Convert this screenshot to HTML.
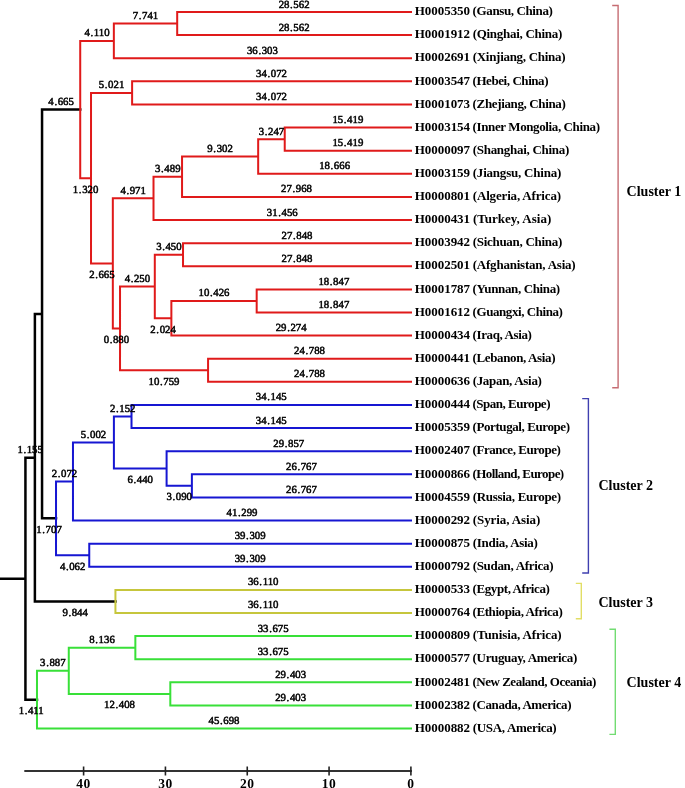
<!DOCTYPE html>
<html><head><meta charset="utf-8"><title>Dendrogram</title>
<style>
html,body{margin:0;padding:0;background:#fff;}
body{width:685px;height:788px;overflow:hidden;}
svg{display:block;filter:blur(0.3px);}
.n{font-family:"Liberation Serif",serif;font-size:10.8px;text-rendering:geometricPrecision;fill:#000;stroke:#000;stroke-width:0.5px;}
.l{font-family:"Liberation Serif",serif;font-size:13px;font-weight:bold;fill:#000;}
.i{letter-spacing:-0.05px;}
.p{letter-spacing:-0.44px;}
.c{font-family:"Liberation Serif",serif;font-size:14px;font-weight:bold;fill:#000;}
.a{font-family:"Liberation Serif",serif;font-size:13.5px;font-weight:bold;letter-spacing:0.5px;text-rendering:geometricPrecision;fill:#000;}
</style></head><body>
<svg width="685" height="788" viewBox="0 0 685 788">
<path d="M0,578.68H25.43M25.43,457.69V699.67M25.43,457.69H34.88M34.88,313.94V601.43M34.88,313.94H42.05M42.05,109.52V518.36M42.05,109.52H80.22M42.05,518.36H56.02M34.88,601.43H115.43M25.43,699.67H36.98" fill="none" stroke="#000000" stroke-width="2.5" stroke-linecap="square"/>
<path d="M80.22,40.89V178.14M80.22,40.89H113.85M113.85,23.56V58.23M113.85,23.56H177.19M177.19,12.00V35.11M177.19,12.00H411.00M177.19,35.11H411.00M113.85,58.23H411.00M80.22,178.14H91.02M91.02,92.90V263.38M91.02,92.90H132.11M132.11,81.34V104.46M132.11,81.34H411.00M132.11,104.46H411.00M91.02,263.38H112.83M112.83,198.36V328.39M112.83,198.36H153.51M153.51,176.69V220.03M153.51,176.69H182.05M182.05,156.47V196.92M182.05,156.47H258.17M258.17,139.13V173.80M258.17,139.13H284.73M284.73,127.57V150.69M284.73,127.57H411.00M284.73,150.69H411.00M258.17,173.80H411.00M182.05,196.92H411.00M153.51,220.03H411.00M112.83,328.39H120.03M120.03,286.49V370.28M120.03,286.49H154.80M154.80,254.71V318.27M154.80,254.71H183.03M183.03,243.15V266.26M183.03,243.15H411.00M183.03,266.26H411.00M154.80,318.27H171.37M171.37,300.94V335.61M171.37,300.94H256.68M256.68,289.38V312.50M256.68,289.38H411.00M256.68,312.50H411.00M171.37,335.61H411.00M120.03,370.28H208.07M208.07,358.72V381.84M208.07,358.72H411.00M208.07,381.84H411.00" fill="none" stroke="#e01a1a" stroke-width="2" stroke-linecap="square"/>
<path d="M56.02,481.52V555.20M56.02,481.52H72.97M72.97,442.52V520.53M72.97,442.52H113.90M113.90,416.51V468.52M113.90,416.51H131.51M131.51,404.95V428.07M131.51,404.95H411.00M131.51,428.07H411.00M113.90,468.52H166.60M166.60,451.18V485.86M166.60,451.18H411.00M166.60,485.86H191.88M191.88,474.30V497.41M191.88,474.30H411.00M191.88,497.41H411.00M72.97,520.53H411.00M56.02,555.20H89.25M89.25,543.64V566.76M89.25,543.64H411.00M89.25,566.76H411.00" fill="none" stroke="#1616d2" stroke-width="2" stroke-linecap="square"/>
<path d="M115.43,589.88V612.99M115.43,589.88H411.00M115.43,612.99H411.00" fill="none" stroke="#c6c63c" stroke-width="2" stroke-linecap="square"/>
<path d="M36.98,670.78V728.56M36.98,670.78H68.78M68.78,647.66V693.89M68.78,647.66H135.35M135.35,636.10V659.22M135.35,636.10H411.00M135.35,659.22H411.00M68.78,693.89H170.31M170.31,682.33V705.45M170.31,682.33H411.00M170.31,705.45H411.00M36.98,728.56H411.00" fill="none" stroke="#38e038" stroke-width="2" stroke-linecap="square"/>
<path d="M612.2,5.5H618.1V387.8H612.2" fill="none" stroke="#c66c72" stroke-width="1.4"/>
<path d="M582.2,398.6H588.4V573.0H582.2" fill="none" stroke="#4040b0" stroke-width="1.4"/>
<path d="M575.8,583.4H581.3V618.7H575.8" fill="none" stroke="#e2de66" stroke-width="1.4"/>
<path d="M609.4,629.2H615.3V734.4H609.4" fill="none" stroke="#72dc72" stroke-width="1.4"/>
<text class="c" x="626.6" y="195.7">Cluster 1</text>
<text class="c" x="598.4" y="489.9">Cluster 2</text>
<text class="c" x="598.4" y="606.6">Cluster 3</text>
<text class="c" x="626.6" y="686.7">Cluster 4</text>
<text class="n" x="30.16" y="453.19" text-anchor="middle">1<tspan dx="0.6">.</tspan><tspan dx="0.6">155</tspan></text>
<text class="n" x="61.13" y="105.02" text-anchor="middle">4<tspan dx="0.6">.</tspan><tspan dx="0.6">665</tspan></text>
<text class="n" x="97.04" y="36.39" text-anchor="middle">4<tspan dx="0.6">.</tspan><tspan dx="0.6">110</tspan></text>
<text class="n" x="145.52" y="19.06" text-anchor="middle">7<tspan dx="0.6">.</tspan><tspan dx="0.6">741</tspan></text>
<text class="n" x="294.10" y="7.50" text-anchor="middle">28<tspan dx="0.6">.</tspan><tspan dx="0.6">562</tspan></text>
<text class="n" x="294.10" y="30.61" text-anchor="middle">28<tspan dx="0.6">.</tspan><tspan dx="0.6">562</tspan></text>
<text class="n" x="262.43" y="53.73" text-anchor="middle">36<tspan dx="0.6">.</tspan><tspan dx="0.6">303</tspan></text>
<text class="n" x="85.62" y="192.64" text-anchor="middle">1<tspan dx="0.6">.</tspan><tspan dx="0.6">320</tspan></text>
<text class="n" x="111.56" y="88.40" text-anchor="middle">5<tspan dx="0.6">.</tspan><tspan dx="0.6">021</tspan></text>
<text class="n" x="271.55" y="76.84" text-anchor="middle">34<tspan dx="0.6">.</tspan><tspan dx="0.6">072</tspan></text>
<text class="n" x="271.55" y="99.96" text-anchor="middle">34<tspan dx="0.6">.</tspan><tspan dx="0.6">072</tspan></text>
<text class="n" x="101.92" y="277.88" text-anchor="middle">2<tspan dx="0.6">.</tspan><tspan dx="0.6">665</tspan></text>
<text class="n" x="133.17" y="193.86" text-anchor="middle">4<tspan dx="0.6">.</tspan><tspan dx="0.6">971</tspan></text>
<text class="n" x="167.78" y="172.19" text-anchor="middle">3<tspan dx="0.6">.</tspan><tspan dx="0.6">489</tspan></text>
<text class="n" x="220.11" y="151.97" text-anchor="middle">9<tspan dx="0.6">.</tspan><tspan dx="0.6">302</tspan></text>
<text class="n" x="271.45" y="134.63" text-anchor="middle">3<tspan dx="0.6">.</tspan><tspan dx="0.6">247</tspan></text>
<text class="n" x="347.87" y="123.07" text-anchor="middle">15<tspan dx="0.6">.</tspan><tspan dx="0.6">419</tspan></text>
<text class="n" x="347.87" y="146.19" text-anchor="middle">15<tspan dx="0.6">.</tspan><tspan dx="0.6">419</tspan></text>
<text class="n" x="334.58" y="169.30" text-anchor="middle">18<tspan dx="0.6">.</tspan><tspan dx="0.6">666</tspan></text>
<text class="n" x="296.53" y="192.42" text-anchor="middle">27<tspan dx="0.6">.</tspan><tspan dx="0.6">968</tspan></text>
<text class="n" x="282.26" y="215.53" text-anchor="middle">31<tspan dx="0.6">.</tspan><tspan dx="0.6">456</tspan></text>
<text class="n" x="116.43" y="342.89" text-anchor="middle">0<tspan dx="0.6">.</tspan><tspan dx="0.6">880</tspan></text>
<text class="n" x="137.42" y="281.99" text-anchor="middle">4<tspan dx="0.6">.</tspan><tspan dx="0.6">250</tspan></text>
<text class="n" x="168.92" y="250.21" text-anchor="middle">3<tspan dx="0.6">.</tspan><tspan dx="0.6">450</tspan></text>
<text class="n" x="297.02" y="238.65" text-anchor="middle">27<tspan dx="0.6">.</tspan><tspan dx="0.6">848</tspan></text>
<text class="n" x="297.02" y="261.76" text-anchor="middle">27<tspan dx="0.6">.</tspan><tspan dx="0.6">848</tspan></text>
<text class="n" x="163.08" y="332.77" text-anchor="middle">2<tspan dx="0.6">.</tspan><tspan dx="0.6">024</tspan></text>
<text class="n" x="214.02" y="296.44" text-anchor="middle">10<tspan dx="0.6">.</tspan><tspan dx="0.6">426</tspan></text>
<text class="n" x="333.84" y="284.88" text-anchor="middle">18<tspan dx="0.6">.</tspan><tspan dx="0.6">847</tspan></text>
<text class="n" x="333.84" y="308.00" text-anchor="middle">18<tspan dx="0.6">.</tspan><tspan dx="0.6">847</tspan></text>
<text class="n" x="291.18" y="331.11" text-anchor="middle">29<tspan dx="0.6">.</tspan><tspan dx="0.6">274</tspan></text>
<text class="n" x="164.05" y="384.78" text-anchor="middle">10<tspan dx="0.6">.</tspan><tspan dx="0.6">759</tspan></text>
<text class="n" x="309.54" y="354.22" text-anchor="middle">24<tspan dx="0.6">.</tspan><tspan dx="0.6">788</tspan></text>
<text class="n" x="309.54" y="377.34" text-anchor="middle">24<tspan dx="0.6">.</tspan><tspan dx="0.6">788</tspan></text>
<text class="n" x="49.03" y="532.86" text-anchor="middle">1<tspan dx="0.6">.</tspan><tspan dx="0.6">707</tspan></text>
<text class="n" x="64.49" y="477.02" text-anchor="middle">2<tspan dx="0.6">.</tspan><tspan dx="0.6">072</tspan></text>
<text class="n" x="93.44" y="438.02" text-anchor="middle">5<tspan dx="0.6">.</tspan><tspan dx="0.6">002</tspan></text>
<text class="n" x="122.70" y="412.01" text-anchor="middle">2<tspan dx="0.6">.</tspan><tspan dx="0.6">152</tspan></text>
<text class="n" x="271.25" y="400.45" text-anchor="middle">34<tspan dx="0.6">.</tspan><tspan dx="0.6">145</tspan></text>
<text class="n" x="271.25" y="423.57" text-anchor="middle">34<tspan dx="0.6">.</tspan><tspan dx="0.6">145</tspan></text>
<text class="n" x="140.25" y="483.02" text-anchor="middle">6<tspan dx="0.6">.</tspan><tspan dx="0.6">440</tspan></text>
<text class="n" x="288.80" y="446.68" text-anchor="middle">29<tspan dx="0.6">.</tspan><tspan dx="0.6">857</tspan></text>
<text class="n" x="179.24" y="500.36" text-anchor="middle">3<tspan dx="0.6">.</tspan><tspan dx="0.6">090</tspan></text>
<text class="n" x="301.44" y="469.80" text-anchor="middle">26<tspan dx="0.6">.</tspan><tspan dx="0.6">767</tspan></text>
<text class="n" x="301.44" y="492.91" text-anchor="middle">26<tspan dx="0.6">.</tspan><tspan dx="0.6">767</tspan></text>
<text class="n" x="241.99" y="516.03" text-anchor="middle">41<tspan dx="0.6">.</tspan><tspan dx="0.6">299</tspan></text>
<text class="n" x="72.64" y="569.70" text-anchor="middle">4<tspan dx="0.6">.</tspan><tspan dx="0.6">062</tspan></text>
<text class="n" x="250.13" y="539.14" text-anchor="middle">39<tspan dx="0.6">.</tspan><tspan dx="0.6">309</tspan></text>
<text class="n" x="250.13" y="562.26" text-anchor="middle">39<tspan dx="0.6">.</tspan><tspan dx="0.6">309</tspan></text>
<text class="n" x="75.16" y="615.93" text-anchor="middle">9<tspan dx="0.6">.</tspan><tspan dx="0.6">844</tspan></text>
<text class="n" x="263.21" y="585.38" text-anchor="middle">36<tspan dx="0.6">.</tspan><tspan dx="0.6">110</tspan></text>
<text class="n" x="263.21" y="608.49" text-anchor="middle">36<tspan dx="0.6">.</tspan><tspan dx="0.6">110</tspan></text>
<text class="n" x="31.20" y="714.17" text-anchor="middle">1<tspan dx="0.6">.</tspan><tspan dx="0.6">411</tspan></text>
<text class="n" x="52.88" y="666.28" text-anchor="middle">3<tspan dx="0.6">.</tspan><tspan dx="0.6">887</tspan></text>
<text class="n" x="102.07" y="643.16" text-anchor="middle">8<tspan dx="0.6">.</tspan><tspan dx="0.6">136</tspan></text>
<text class="n" x="273.18" y="631.60" text-anchor="middle">33<tspan dx="0.6">.</tspan><tspan dx="0.6">675</tspan></text>
<text class="n" x="273.18" y="654.72" text-anchor="middle">33<tspan dx="0.6">.</tspan><tspan dx="0.6">675</tspan></text>
<text class="n" x="119.55" y="708.39" text-anchor="middle">12<tspan dx="0.6">.</tspan><tspan dx="0.6">408</tspan></text>
<text class="n" x="290.65" y="677.83" text-anchor="middle">29<tspan dx="0.6">.</tspan><tspan dx="0.6">403</tspan></text>
<text class="n" x="290.65" y="700.95" text-anchor="middle">29<tspan dx="0.6">.</tspan><tspan dx="0.6">403</tspan></text>
<text class="n" x="223.99" y="724.06" text-anchor="middle">45<tspan dx="0.6">.</tspan><tspan dx="0.6">698</tspan></text>
<text class="l" x="414.80" y="15.20"><tspan class="i">H0005350</tspan><tspan dx="-0.3" style="letter-spacing:-0.383px"> (Gansu, China)</tspan></text>
<text class="l" x="414.80" y="38.31"><tspan class="i">H0001912</tspan><tspan dx="-0.3" style="letter-spacing:-0.29px"> (Qinghai, China)</tspan></text>
<text class="l" x="414.80" y="61.43"><tspan class="i">H0002691</tspan><tspan dx="-0.3" style="letter-spacing:-0.287px"> (Xinjiang, China)</tspan></text>
<text class="l" x="414.80" y="84.55"><tspan class="i">H0003547</tspan><tspan dx="-0.3" style="letter-spacing:-0.433px"> (Hebei, China)</tspan></text>
<text class="l" x="414.80" y="107.66"><tspan class="i">H0001073</tspan><tspan dx="-0.3" style="letter-spacing:-0.358px"> (Zhejiang, China)</tspan></text>
<text class="l" x="414.80" y="130.77"><tspan class="i">H0003154</tspan><tspan dx="-0.3" style="letter-spacing:-0.388px"> (Inner Mongolia, China)</tspan></text>
<text class="l" x="414.80" y="153.89"><tspan class="i">H0000097</tspan><tspan dx="-0.3" style="letter-spacing:-0.281px"> (Shanghai, China)</tspan></text>
<text class="l" x="414.80" y="177.00"><tspan class="i">H0003159</tspan><tspan dx="-0.3" style="letter-spacing:-0.215px"> (Jiangsu, China)</tspan></text>
<text class="l" x="414.80" y="200.12"><tspan class="i">H0000801</tspan><tspan dx="-0.3" style="letter-spacing:-0.169px"> (Algeria, Africa)</tspan></text>
<text class="l" x="414.80" y="223.23"><tspan class="i">H0000431</tspan><tspan dx="-0.3" style="letter-spacing:0.003px"> (Turkey, Asia)</tspan></text>
<text class="l" x="414.80" y="246.35"><tspan class="i">H0003942</tspan><tspan dx="-0.3" style="letter-spacing:-0.29px"> (Sichuan, China)</tspan></text>
<text class="l" x="414.80" y="269.46"><tspan class="i">H0002501</tspan><tspan dx="-0.3" style="letter-spacing:-0.224px"> (Afghanistan, Asia)</tspan></text>
<text class="l" x="414.80" y="292.58"><tspan class="i">H0001787</tspan><tspan dx="-0.3" style="letter-spacing:-0.373px"> (Yunnan, China)</tspan></text>
<text class="l" x="414.80" y="315.69"><tspan class="i">H0001612</tspan><tspan dx="-0.3" style="letter-spacing:-0.427px"> (Guangxi, China)</tspan></text>
<text class="l" x="414.80" y="338.81"><tspan class="i">H0000434</tspan><tspan dx="-0.3" style="letter-spacing:-0.382px"> (Iraq, Asia)</tspan></text>
<text class="l" x="414.80" y="361.92"><tspan class="i">H0000441</tspan><tspan dx="-0.3" style="letter-spacing:-0.373px"> (Lebanon, Asia)</tspan></text>
<text class="l" x="414.80" y="385.04"><tspan class="i">H0000636</tspan><tspan dx="-0.3" style="letter-spacing:-0.309px"> (Japan, Asia)</tspan></text>
<text class="l" x="414.80" y="408.15"><tspan class="i">H0000444</tspan><tspan dx="-0.3" style="letter-spacing:-0.483px"> (Span, Europe)</tspan></text>
<text class="l" x="414.80" y="431.27"><tspan class="i">H0005359</tspan><tspan dx="-0.3" style="letter-spacing:-0.412px"> (Portugal, Europe)</tspan></text>
<text class="l" x="414.80" y="454.38"><tspan class="i">H0002407</tspan><tspan dx="-0.3" style="letter-spacing:-0.452px"> (France, Europe)</tspan></text>
<text class="l" x="414.80" y="477.50"><tspan class="i">H0000866</tspan><tspan dx="-0.3" style="letter-spacing:-0.569px"> (Holland, Europe)</tspan></text>
<text class="l" x="414.80" y="500.61"><tspan class="i">H0004559</tspan><tspan dx="-0.3" style="letter-spacing:-0.296px"> (Russia, Europe)</tspan></text>
<text class="l" x="414.80" y="523.73"><tspan class="i">H0000292</tspan><tspan dx="-0.3" style="letter-spacing:-0.102px"> (Syria, Asia)</tspan></text>
<text class="l" x="414.80" y="546.85"><tspan class="i">H0000875</tspan><tspan dx="-0.3" style="letter-spacing:-0.286px"> (India, Asia)</tspan></text>
<text class="l" x="414.80" y="569.96"><tspan class="i">H0000792</tspan><tspan dx="-0.3" style="letter-spacing:-0.313px"> (Sudan, Africa)</tspan></text>
<text class="l" x="414.80" y="593.08"><tspan class="i">H0000533</tspan><tspan dx="-0.3" style="letter-spacing:-0.413px"> (Egypt, Africa)</tspan></text>
<text class="l" x="414.80" y="616.19"><tspan class="i">H0000764</tspan><tspan dx="-0.3" style="letter-spacing:-0.429px"> (Ethiopia, Africa)</tspan></text>
<text class="l" x="414.80" y="639.30"><tspan class="i">H0000809</tspan><tspan dx="-0.3" style="letter-spacing:-0.111px"> (Tunisia, Africa)</tspan></text>
<text class="l" x="414.80" y="662.42"><tspan class="i">H0000577</tspan><tspan dx="-0.3" style="letter-spacing:-0.346px"> (Uruguay, America)</tspan></text>
<text class="l" x="414.80" y="685.53"><tspan class="i">H0002481</tspan><tspan dx="-0.3" style="letter-spacing:-0.485px"> (New Zealand, Oceania)</tspan></text>
<text class="l" x="414.80" y="708.65"><tspan class="i">H0002382</tspan><tspan dx="-0.3" style="letter-spacing:-0.405px"> (Canada, America)</tspan></text>
<text class="l" x="414.80" y="731.76"><tspan class="i">H0000882</tspan><tspan dx="-0.3" style="letter-spacing:-0.311px"> (USA, America)</tspan></text>
<path d="M24.3,771.0H411.9" stroke="#333" stroke-width="2" fill="none"/>
<path d="M83.60,766.5V775.5" stroke="#222" stroke-width="1.6" fill="none"/>
<text class="a" x="83.60" y="788.1" text-anchor="middle">40</text>
<path d="M165.43,766.5V775.5" stroke="#222" stroke-width="1.6" fill="none"/>
<text class="a" x="165.43" y="788.1" text-anchor="middle">30</text>
<path d="M247.25,766.5V775.5" stroke="#222" stroke-width="1.6" fill="none"/>
<text class="a" x="247.25" y="788.1" text-anchor="middle">20</text>
<path d="M329.07,766.5V775.5" stroke="#222" stroke-width="1.6" fill="none"/>
<text class="a" x="329.07" y="788.1" text-anchor="middle">10</text>
<path d="M410.90,766.5V775.5" stroke="#222" stroke-width="1.6" fill="none"/>
<text class="a" x="410.90" y="788.1" text-anchor="middle">0</text>
</svg>
</body></html>
